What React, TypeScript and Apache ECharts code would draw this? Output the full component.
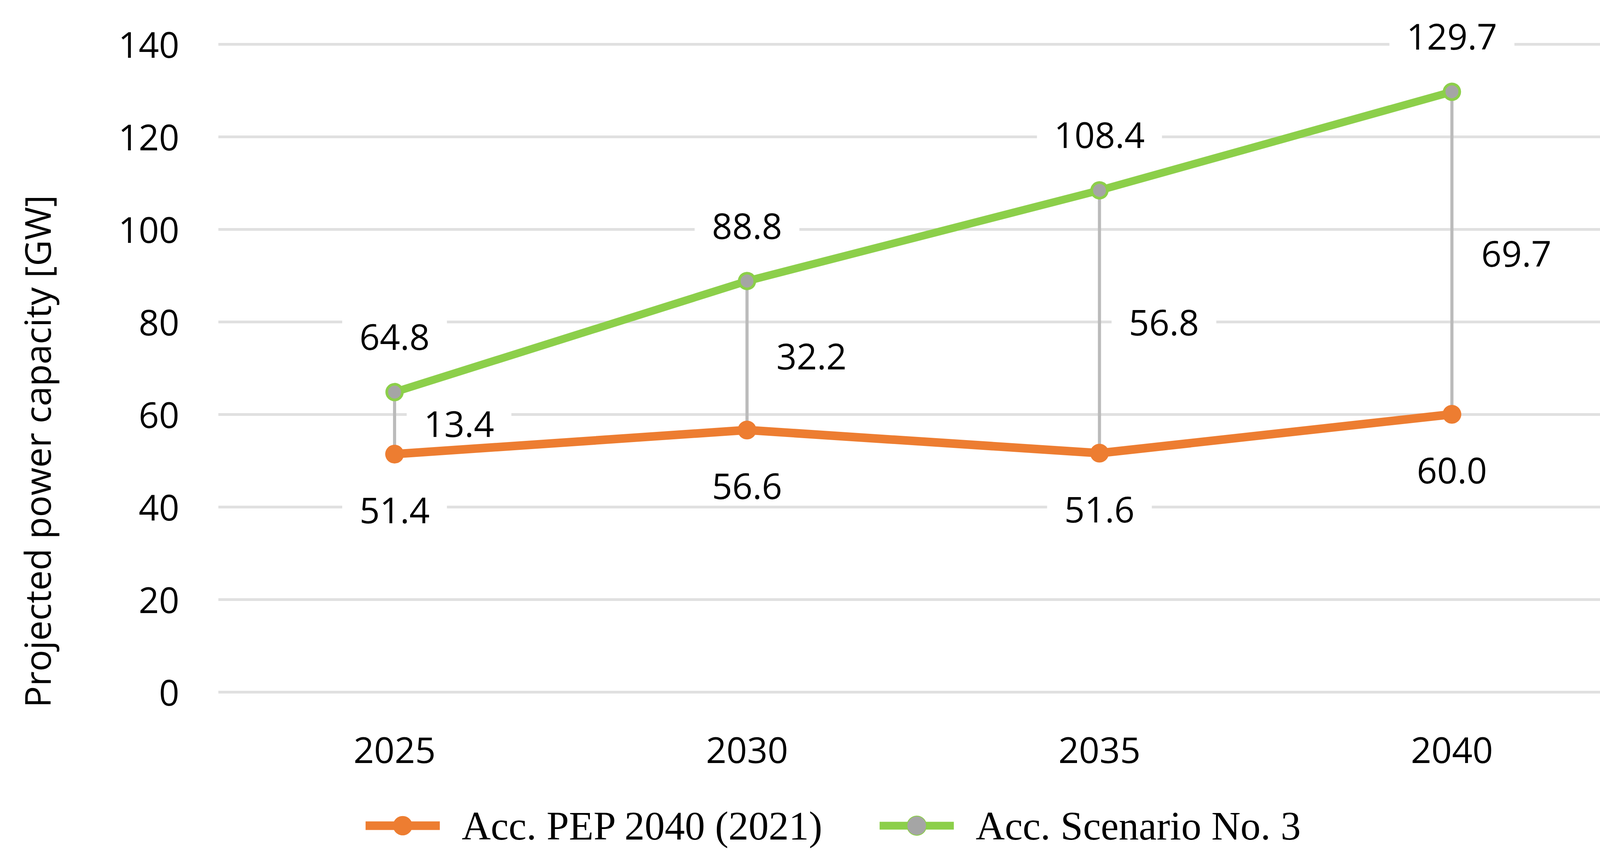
import React, { useEffect, useRef } from 'react';
import * as echarts from 'echarts';

const years = ['2025', '2030', '2035', '2040'];
const pepValues = [51.4, 56.6, 51.6, 60.0];
const scenarioValues = [64.8, 88.8, 108.4, 129.7];
const differences = [13.4, 32.2, 56.8, 69.7];
const seriesNames = ['Acc. PEP 2040 (2021)', 'Acc. Scenario No. 3'];
const yAxisTitle = 'Projected power capacity [GW]';
const yMin = 0;
const yMax = 140;
const yStep = 20;

const SANS = '"Open Sans", "Liberation Sans", sans-serif';
const SERIF = '"Liberation Serif", "DejaVu Serif", serif';
const ORANGE = '#ED7D31';
const GREEN = '#8CCF4A';
const GRAY = '#A5A5A5';

export default function App() {
  const ref = useRef<HTMLDivElement>(null);

  useEffect(() => {
    if (!ref.current) return;
    const chart = echarts.init(ref.current, undefined, { renderer: 'svg' });

    const rangeData = years.map((_, i) => [i, pepValues[i], scenarioValues[i], differences[i]]);

    const labelBase = {
      show: true,
      position: 'inside',
      fontFamily: SANS,
      fontSize: 91,
      color: '#000',
      backgroundColor: '#fff',
      padding: [6, 44],
      formatter: (p: any) => Number(p.value).toFixed(1),
    };

    chart.setOption({
      animation: false,
      backgroundColor: '#fff',
      grid: { left: 559, right: 87, top: 113, bottom: 415, containLabel: false },
      xAxis: {
        type: 'category',
        data: years,
        boundaryGap: true,
        axisLine: { show: false },
        axisTick: { show: false },
        axisLabel: { fontFamily: SANS, fontSize: 92, color: '#000', margin: 100 },
        splitLine: { show: false },
      },
      yAxis: {
        type: 'value',
        min: yMin,
        max: yMax,
        interval: yStep,
        axisLine: { show: false },
        axisTick: { show: false },
        axisLabel: { fontFamily: SANS, fontSize: 91, color: '#000', margin: 100 },
        splitLine: { show: true, lineStyle: { color: '#E0E0E0', width: 7 } },
      },
      legend: {
        data: seriesNames,
        left: 'center',
        top: 2058,
        itemWidth: 190,
        itemHeight: 62,
        itemGap: 133,
        lineStyle: { width: 'inherit' },
        textStyle: { fontFamily: SERIF, fontSize: 103, color: '#000', padding: [0, 0, 0, 51] },
      },
      graphic: [
        {
          type: 'text',
          x: 94,
          y: 1156,
          rotation: Math.PI / 2,
          style: {
            text: yAxisTitle,
            fontFamily: SANS,
            fontSize: 92,
            fill: '#000',
            align: 'center',
            verticalAlign: 'middle',
          },
        },
      ],
      series: [
        {
          type: 'custom',
          name: 'range',
          z: 1,
          silent: true,
          encode: { x: 0, y: [1, 2] },
          data: rangeData,
          renderItem: (params: any, api: any) => {
            const idx = api.value(0);
            const low = api.coord([idx, api.value(1)]);
            const high = api.coord([idx, api.value(2)]);
            const diff = Number(api.value(3)).toFixed(1);
            return {
              type: 'group',
              children: [
                {
                  type: 'line',
                  shape: { x1: low[0], y1: low[1], x2: high[0], y2: high[1] },
                  style: { stroke: '#BBBBBB', lineWidth: 8 },
                },
                {
                  type: 'text',
                  x: low[0] + 165,
                  y: (low[1] + high[1]) / 2,
                  style: {
                    text: diff,
                    fontFamily: SANS,
                    fontSize: 91,
                    fill: '#000',
                    align: 'center',
                    verticalAlign: 'middle',
                    backgroundColor: '#fff',
                    padding: [6, 44],
                  },
                },
              ],
            };
          },
        },
        {
          type: 'line',
          name: seriesNames[0],
          z: 2,
          data: pepValues,
          symbol: 'circle',
          symbolSize: 48,
          lineStyle: { color: ORANGE, width: 22 },
          itemStyle: { color: ORANGE, borderColor: ORANGE, borderWidth: 0 },
          label: { ...labelBase, offset: [0, 142] },
          emphasis: { disabled: true },
        },
        {
          type: 'line',
          name: seriesNames[1],
          z: 3,
          data: scenarioValues,
          symbol: 'circle',
          symbolSize: 40,
          lineStyle: { color: GREEN, width: 20 },
          itemStyle: { color: GRAY, borderColor: GREEN, borderWidth: 7 },
          label: { ...labelBase, offset: [0, -143] },
          emphasis: { disabled: true },
        },
      ],
    });

    return () => chart.dispose();
  }, []);

  return (
    <div
      ref={ref}
      style={{ position: 'absolute', left: 0, top: 0, width: 4255, height: 2187 }}
    />
  );
}
